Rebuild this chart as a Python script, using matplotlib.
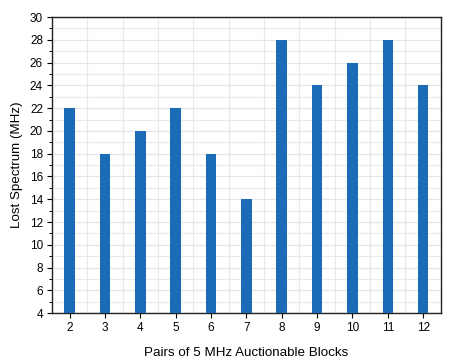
import numpy as np
import matplotlib.pyplot as plt
from matplotlib.ticker import MultipleLocator

plt.rcParams['font.family'] = ['Liberation Sans', 'DejaVu Sans']

# Data
pairs = [2, 3, 4, 5, 6, 7, 8, 9, 10, 11, 12]
lost = [22, 18, 20, 22, 18, 14, 28, 24, 26, 28, 24]

fig = plt.figure(figsize=(4.5, 3.62), dpi=100)
ax = fig.add_axes([0.1156, 0.135, 0.864, 0.818])

ax.bar(pairs, np.array(lost) - 4, width=0.3, bottom=4, color='#1b6cb6', zorder=3)

ax.set_xlim(1.5, 12.5)
ax.set_ylim(4, 30)
ax.set_xticks(pairs)
ax.set_xticks(np.arange(2.5, 12.5, 1.0), minor=True)
ax.yaxis.set_major_locator(MultipleLocator(2))
ax.yaxis.set_minor_locator(MultipleLocator(1))

ax.grid(which='major', axis='y', color='#e4e4ec', linewidth=0.9, zorder=0)
ax.grid(which='minor', axis='both', color='#e8e8f0', linewidth=0.8, zorder=0)

ax.tick_params(axis='both', which='major', direction='out', length=3.5, width=0.8,
               labelsize=8.5, pad=3)
ax.tick_params(axis='y', which='minor', direction='out', length=2, width=0.7)
ax.tick_params(axis='x', which='minor', length=0)

for s in ax.spines.values():
    s.set_linewidth(1.0)
    s.set_color('#222222')

ax.set_xlabel('Pairs of 5 MHz Auctionable Blocks', fontsize=9.6, labelpad=9)
ax.set_ylabel('Lost Spectrum (MHz)', fontsize=9.6, labelpad=5)

fig.savefig('out.png', dpi=100)
